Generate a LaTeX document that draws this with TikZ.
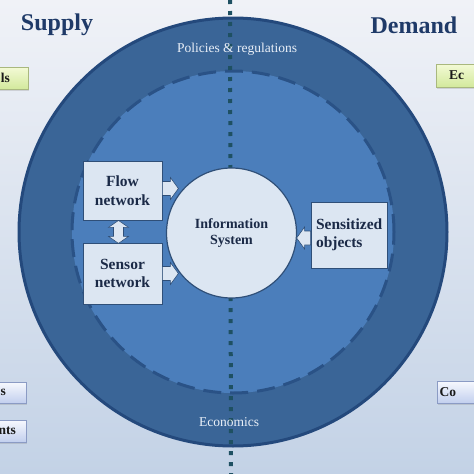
\documentclass[tikz,border=0pt]{standalone}
\usepackage{fontspec}
\setmainfont{Liberation Serif}
\usetikzlibrary{calc,shadows}
\definecolor{bgtop}{HTML}{F0F2F7}
\definecolor{bgbot}{HTML}{C3D2E6}
\definecolor{ringfill}{HTML}{3A6597}
\definecolor{ringedge}{HTML}{24497C}
\definecolor{diskfill}{HTML}{4B7EBB}
\definecolor{dashcol}{HTML}{2A5286}
\definecolor{lightfill}{HTML}{DCE6F2}
\definecolor{boxedge}{HTML}{2F4F78}
\definecolor{navy}{HTML}{1B2A47}
\definecolor{titlecol}{HTML}{1F3A68}
\definecolor{dotcol}{HTML}{1E5062}
\definecolor{greentop}{HTML}{F3FAD6}
\definecolor{greenbot}{HTML}{D3E99C}
\definecolor{greenedge}{HTML}{A9B87E}
\definecolor{bluetop}{HTML}{F7F9FE}
\definecolor{bluebot}{HTML}{C2CFEE}
\definecolor{blueedge}{HTML}{8B9BC4}
\definecolor{ringtext}{HTML}{EAF0F8}
\tikzset{
  ringlabel/.style={text=ringtext, font=\fontsize{13.5}{15}\selectfont, inner sep=0pt},
  titletext/.style={text=titlecol, font=\fontsize{24}{26}\selectfont\bfseries, inner sep=0pt},
  innerbox/.style={draw=boxedge, line width=0.8pt, fill=lightfill, text=navy,
     font=\fontsize{15.5}{18.5}\selectfont\bfseries, inner sep=0pt},
  barrow/.style={draw=boxedge, line width=0.6pt, fill=lightfill},
  greenbox/.style={draw=greenedge, line width=0.6pt, top color=greentop, bottom color=greenbot,
     drop shadow={opacity=0.25, shadow xshift=1pt, shadow yshift=-1.5pt}},
  bluebox/.style={draw=blueedge, line width=0.6pt, top color=bluetop, bottom color=bluebot,
     drop shadow={opacity=0.25, shadow xshift=1pt, shadow yshift=-1.5pt}},
  sidetext/.style={text=black!90, font=\fontsize{13.5}{15}\selectfont\bfseries, inner sep=0pt},
  dotline/.style={draw=dotcol, line width=4pt, dash pattern=on 4pt off 7pt},
}
\begin{document}
\begin{tikzpicture}[x=1pt,y=-1pt]
\useasboundingbox (0,0) rectangle (474,474);
\clip (0,0) rectangle (474,474);
\shade[top color=bgtop, bottom color=bgbot] (0,0) rectangle (474,474);
% side boxes
\path[greenbox] (-40,67) rectangle (28,89);
\node[sidetext, anchor=east] (sl1) at (10,78) {ls};
\path[greenbox] (436,64) rectangle (520,87);
\node[sidetext, anchor=west] (sr1) at (449,75.5) {Ec};
\path[bluebox] (-40,382) rectangle (26,403);
\node[sidetext, anchor=west] (sl2) at (0.5,392.5) {s};
\path[bluebox] (-40,420) rectangle (26,442);
\node[sidetext, anchor=east] (sl3) at (16,431) {nts};
\path[bluebox] (437,381) rectangle (520,403);
\node[sidetext, anchor=west] (sr2) at (439.5,392) {Co};
% titles
\node[titletext] (supply) at (57,25) {Supply};
\node[titletext] (demand) at (414,25) {Demand};
% rings
\node[circle, draw=ringedge, line width=3pt, fill=ringfill, minimum size=428pt, inner sep=0pt] (outer) at (233,232) {};
\node[circle, draw=dashcol, line width=3pt, dash pattern=on 18pt off 9pt, fill=diskfill, minimum size=322pt, inner sep=0pt] (inner) at (233,232) {};
\coordinate (dtop) at (230,0);
\coordinate (dbot) at (231,474);
\draw[dotline] (dtop) -- (dbot);
\node[ringlabel] (policies) at (237,49) {Policies \& regulations};
\node[ringlabel] (economics) at (229,422) {Economics};
% center
\node[circle, draw=boxedge, line width=1.2pt, fill=lightfill, minimum size=130pt, inner sep=0pt,
  text=navy, font=\fontsize{14}{15.5}\selectfont\bfseries, align=center] (info) at (231.5,233) {Information\\System};
\node[innerbox, minimum width=79pt, minimum height=59pt, align=center] (flow) at (122.5,190.5) {Flow\\network};
\node[innerbox, minimum width=79pt, minimum height=61pt, align=center] (sensor) at (122.5,273.5) {Sensor\\network};
\node[innerbox, minimum width=76pt, minimum height=66pt, align=left, text width=66pt] (sens) at (349,235) {Sensitized\\objects};
% block arrows
\draw[barrow] ($(flow.east)+(0,-9)$) -- ++(8,0) -- ++(0,-4) -- ++(8,11) -- ++(-8,11) -- ++(0,-4) -- ++(-8,0) -- cycle;
\draw[barrow] ($(sensor.east)+(0,-7)$) -- ++(8,0) -- ++(0,-4) -- ++(8,11) -- ++(-8,11) -- ++(0,-4) -- ++(-8,0) -- cycle;
\draw[barrow] ($(sens.west)+(0,-4)$) -- ++(-6,0) -- ++(0,-4) -- ++(-8,11) -- ++(8,11) -- ++(0,-4) -- ++(6,0) -- cycle;
\draw[barrow] ($(flow.south)+(-4,0)$) -- ++(10,7) -- ++(-5,0) -- ++(0,9) -- ++(5,0) -- ++(-10,7) -- ++(-10,-7) -- ++(5,0) -- ++(0,-9) -- ++(-5,0) -- cycle;
\end{tikzpicture}
\end{document}
